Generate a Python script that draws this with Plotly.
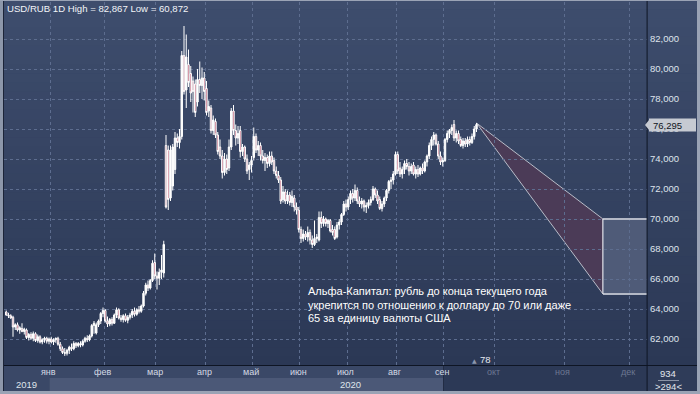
import plotly.graph_objects as go

# ---------------- data ----------------
open_ = [
    63.80, 63.60, 63.55, 63.45, 62.80, 62.95, 62.60, 62.70, 62.50, 62.60,
    62.10, 62.30, 62.05, 62.35, 61.90, 62.15, 61.80, 61.95, 62.05, 61.85,
    62.00, 61.80, 61.95, 62.05, 61.65, 61.35, 61.10, 61.05, 61.25, 61.45,
    61.35, 61.70, 61.55, 61.70, 61.60, 61.85, 62.05, 61.95, 62.20, 62.90,
    62.40, 62.95, 63.20, 63.70, 63.90, 63.20, 63.00, 63.30, 63.05, 63.60,
    63.95, 63.40, 63.30, 63.55, 63.25, 63.45, 63.60, 63.85, 63.65, 63.95,
    63.85, 64.20, 65.05, 65.60, 65.40, 65.90, 67.10, 66.20, 66.05, 66.45,
    66.40, 74.90, 74.60, 71.40, 72.20, 73.30, 75.40, 75.10, 75.50, 80.90,
    78.60, 80.30, 79.70, 79.20, 79.00, 77.80, 79.30, 78.90, 79.40, 78.70,
    77.20, 77.40, 75.90, 76.50, 75.60, 74.80, 74.20, 73.10, 74.00, 73.40,
    74.80, 77.20, 75.90, 75.40, 75.90, 74.50, 74.80, 74.00, 73.30, 73.60,
    74.10, 75.50, 74.60, 74.90, 74.20, 73.90, 74.10, 73.70, 74.20, 73.90,
    73.20, 72.90, 72.60, 71.30, 71.80, 71.20, 71.60, 71.10, 71.40, 70.80,
    70.60, 69.30, 68.70, 69.00, 68.80, 69.10, 68.60, 68.30, 68.70, 68.60,
    70.10, 69.70, 70.00, 69.70, 69.90, 69.30, 69.30, 68.80, 69.60, 69.80,
    70.30, 71.00, 70.80, 71.30, 71.70, 71.40, 71.90, 71.20, 71.00, 71.20,
    70.80, 70.90, 71.10, 71.30, 72.00, 71.60, 71.30, 70.70, 71.00, 71.40,
    71.90, 72.50, 72.60, 73.00, 74.30, 73.40, 73.00, 73.30, 73.70, 73.50,
    73.20, 73.60, 73.00, 73.30, 73.00, 73.40, 73.20, 73.80, 74.20, 74.90,
    75.30, 75.60, 75.00, 74.20, 73.80, 73.90, 75.30, 75.70, 75.90, 76.30,
    75.40, 75.70, 75.30, 74.90, 75.20, 75.00, 75.30, 75.10, 75.50, 76.00,
]
high_ = [
    63.90, 63.75, 63.65, 63.55, 63.05, 63.10, 62.85, 63.05, 62.75, 62.70,
    62.40, 62.45, 62.50, 62.45, 62.30, 62.25, 62.05, 62.15, 62.15, 62.10,
    62.15, 62.05, 62.10, 62.15, 61.80, 61.50, 61.40, 61.35, 61.55, 61.70,
    61.85, 61.80, 61.80, 61.85, 61.95, 62.15, 62.25, 62.30, 63.00, 63.20,
    63.10, 63.30, 63.80, 64.10, 64.00, 63.50, 63.40, 63.45, 63.70, 64.10,
    64.05, 63.60, 63.65, 63.70, 63.60, 63.75, 64.00, 64.10, 64.05, 64.20,
    64.30, 65.20, 65.75, 65.90, 66.00, 67.25, 67.70, 66.50, 66.70, 67.60,
    68.55, 75.60, 74.90, 74.90, 75.00, 75.80, 75.70, 76.00, 81.20, 82.867,
    82.30, 81.30, 80.20, 79.50, 79.30, 80.00, 80.50, 80.10, 79.80, 79.20,
    77.90, 77.60, 76.90, 76.70, 75.80, 75.30, 74.60, 74.40, 74.30, 75.30,
    77.40, 77.60, 76.30, 76.20, 76.20, 75.00, 74.90, 74.30, 73.80, 74.20,
    76.10, 75.70, 75.20, 75.10, 74.60, 74.40, 74.30, 74.50, 74.50, 74.10,
    73.50, 73.20, 72.80, 72.20, 72.00, 71.90, 71.80, 71.90, 71.60, 71.10,
    70.80, 69.50, 69.30, 69.20, 69.50, 69.30, 68.90, 69.90, 69.00, 70.50,
    70.50, 70.20, 70.10, 70.00, 70.00, 69.60, 69.50, 69.80, 70.00, 70.40,
    71.20, 71.30, 71.50, 71.90, 72.00, 72.30, 72.10, 71.50, 71.40, 71.30,
    71.10, 71.30, 71.50, 72.20, 72.10, 71.90, 71.50, 71.20, 71.50, 72.00,
    72.60, 72.80, 73.20, 74.50, 74.50, 73.80, 73.50, 73.90, 74.00, 73.80,
    73.70, 73.80, 73.50, 73.60, 73.50, 73.70, 73.90, 74.30, 75.10, 75.50,
    75.80, 75.70, 75.20, 74.50, 74.10, 75.40, 75.90, 76.00, 76.30, 76.60,
    75.90, 75.90, 75.50, 75.40, 75.40, 75.50, 75.50, 75.70, 76.20, 76.40,
]
low_ = [
    63.55, 63.40, 63.35, 62.15, 62.60, 62.50, 62.35, 62.45, 62.30, 62.00,
    61.90, 61.95, 61.85, 61.80, 61.75, 61.70, 61.65, 61.75, 61.70, 61.65,
    61.70, 61.60, 61.75, 61.55, 61.20, 61.00, 60.872, 60.90, 61.00, 61.20,
    61.25, 61.40, 61.45, 61.45, 61.50, 61.75, 61.80, 61.85, 62.10, 62.35,
    62.30, 62.80, 63.00, 63.45, 63.10, 62.80, 62.85, 62.90, 63.00, 63.40,
    63.30, 63.15, 63.10, 63.15, 63.05, 63.30, 63.40, 63.50, 63.55, 63.70,
    63.75, 64.10, 64.90, 65.20, 65.30, 65.80, 66.00, 65.30, 65.60, 66.00,
    66.10, 70.70, 70.60, 71.20, 71.90, 73.00, 74.80, 74.70, 75.30, 78.30,
    77.40, 78.80, 77.80, 77.10, 76.80, 77.50, 78.40, 78.00, 77.90, 76.90,
    76.80, 75.70, 75.60, 75.40, 74.30, 74.00, 72.70, 72.90, 73.00, 73.20,
    74.60, 75.60, 74.90, 75.00, 74.10, 74.20, 73.80, 73.00, 72.60, 73.10,
    73.90, 74.40, 74.20, 73.90, 73.70, 73.20, 73.40, 73.50, 73.60, 73.00,
    72.70, 72.40, 71.00, 71.10, 71.00, 71.00, 70.90, 70.80, 70.50, 70.30,
    69.10, 68.40, 68.50, 68.60, 68.50, 68.30, 68.07, 68.20, 68.40, 68.50,
    69.40, 69.50, 69.50, 69.40, 69.10, 68.90, 68.60, 68.70, 69.30, 69.60,
    70.20, 70.50, 70.60, 71.00, 71.10, 71.20, 71.00, 70.80, 70.70, 70.50,
    70.40, 70.70, 70.90, 71.20, 71.40, 71.00, 70.60, 70.50, 70.80, 71.20,
    71.70, 72.00, 72.30, 72.90, 73.00, 72.80, 72.70, 73.00, 73.30, 72.90,
    73.00, 72.90, 72.70, 72.80, 72.90, 73.00, 73.10, 73.50, 74.00, 74.60,
    74.90, 74.90, 74.00, 73.60, 73.50, 73.80, 75.10, 75.40, 75.60, 75.20,
    75.10, 75.00, 74.80, 74.70, 74.80, 74.80, 74.90, 75.00, 75.30, 75.80,
]
close_ = [
    63.60, 63.55, 63.40, 62.80, 62.95, 62.60, 62.75, 62.50, 62.65, 62.10,
    62.30, 62.05, 62.35, 61.90, 62.15, 61.80, 61.95, 62.05, 61.85, 62.00,
    61.80, 61.95, 62.05, 61.65, 61.35, 61.10, 61.05, 61.25, 61.45, 61.35,
    61.70, 61.55, 61.70, 61.60, 61.85, 62.05, 61.95, 62.20, 62.90, 63.05,
    62.95, 63.20, 63.70, 63.90, 63.20, 63.00, 63.30, 63.05, 63.60, 63.95,
    63.40, 63.30, 63.55, 63.25, 63.45, 63.60, 63.85, 63.65, 63.95, 63.85,
    64.20, 65.05, 65.60, 65.40, 65.90, 67.05, 66.20, 66.05, 66.45, 66.60,
    68.30, 70.80, 71.30, 74.60, 74.80, 75.40, 75.10, 75.50, 80.90, 78.50,
    80.80, 79.10, 78.40, 78.50, 77.10, 79.30, 78.90, 79.40, 78.50, 77.10,
    77.50, 75.90, 76.60, 75.60, 74.50, 74.20, 73.10, 74.00, 73.30, 74.80,
    77.20, 75.90, 75.40, 75.70, 74.50, 74.80, 74.00, 73.20, 73.60, 73.90,
    75.50, 74.60, 74.90, 74.20, 73.90, 74.10, 73.70, 74.20, 73.80, 73.20,
    72.90, 72.60, 71.20, 71.80, 71.20, 71.60, 71.10, 71.50, 70.80, 70.60,
    69.30, 68.70, 69.00, 68.80, 69.10, 68.60, 68.30, 68.70, 68.80, 70.10,
    69.70, 70.00, 69.70, 69.90, 69.20, 69.10, 68.70, 69.60, 69.80, 70.30,
    71.00, 70.80, 71.30, 71.70, 71.40, 71.90, 71.20, 71.00, 71.20, 70.80,
    70.90, 71.10, 71.30, 72.00, 71.60, 71.20, 70.70, 71.00, 71.40, 71.90,
    72.50, 72.60, 73.00, 74.30, 73.20, 73.00, 73.30, 73.70, 73.50, 73.20,
    73.50, 73.00, 73.30, 73.00, 73.40, 73.20, 73.80, 74.20, 74.90, 75.30,
    75.60, 75.00, 74.20, 73.80, 73.90, 75.30, 75.70, 75.90, 76.10, 75.40,
    75.70, 75.20, 74.90, 75.20, 75.00, 75.30, 75.10, 75.50, 76.00, 76.295,
]
day_idx = list(range(len(close_)))          # trading-day index

month_labels = ["янв", "фев", "мар", "апр", "май", "июн", "июл", "авг", "сен", "окт", "ноя", "дек"]
month_tick_idx = [19.5, 43.5, 66.5, 88.5, 109.5, 130.5, 151.5, 173.5, 194.5, 217.2, 247.9, 276.8]
future_months = ["окт", "ноя", "дек"]
year_labels = ["2019", "2020"]
year_label_idx = [9.2, 152.8]

price_ticks = [62, 64, 66, 68, 70, 72, 74, 76, 78, 80, 82]
forecast_levels = [70.0, 65.0]
forecast_box_start = 265.2
title_text = "USD/RUB 1D High = 82,867 Low = 60,872"
note_lines = ["Альфа-Капитал: рубль до конца текущего года",
              "укрепится по отношению к доллару до 70 или даже",
              "65 за единицу валюты США"]
bar_count_text = "78"
corner_top, corner_bottom = "934", ">294<"

# ---------------- layout geometry ----------------
W, H = 700, 394
L, R, T, B = 4, 53, 2, 29
PW, PH = W - L - R, H - T - B
X_RANGE = [-1, 284.78]
Y_RANGE = [60.2667, 84.4667]


def px(x):
    return (x - L) / PW


def py(y):
    return 1 - (y - T) / PH


FONT = "Liberation Sans"
fig = go.Figure()

fig.add_trace(go.Candlestick(
    x=day_idx, open=open_, high=high_, low=low_, close=close_,
    increasing=dict(line=dict(color="#ffffff", width=1), fillcolor="#ffffff"),
    decreasing=dict(line=dict(color="#ffffff", width=1), fillcolor="#b03a58"),
    whiskerwidth=0, showlegend=False, hoverinfo="skip",
))

shapes = []
# background gradient
N = 40
top_c, bot_c = (62, 77, 109), (43, 56, 85)
for k in range(N):
    f = (k + 0.5) / N
    c = tuple(round(top_c[j] + (bot_c[j] - top_c[j]) * f) for j in range(3))
    y0 = 0 + k * 366 / N
    y1 = 0 + (k + 1) * 366 / N + 0.6
    shapes.append(dict(type="rect", xref="paper", yref="paper", layer="below",
                       x0=px(0), x1=px(700), y0=py(y1), y1=py(y0),
                       line=dict(width=0), fillcolor="rgb(%d,%d,%d)" % c))

# forecast triangle & target box
apex_x, apex_y = day_idx[-1], high_[-1]
shapes.append(dict(type="path", xref="x", yref="y", layer="below",
                   path=f"M {apex_x},{apex_y} L {forecast_box_start},{forecast_levels[0]} "
                        f"L {forecast_box_start},{forecast_levels[1]} Z",
                   fillcolor="#4b3b57", line=dict(color="#b8bcc8", width=1)))
shapes.append(dict(type="rect", xref="x", yref="y", layer="below",
                   x0=forecast_box_start, x1=X_RANGE[1], y0=forecast_levels[1], y1=forecast_levels[0],
                   fillcolor="#4f5b78", line=dict(width=0)))
for lv in forecast_levels:
    shapes.append(dict(type="line", xref="x", yref="y", layer="above",
                       x0=forecast_box_start, x1=X_RANGE[1], y0=lv, y1=lv,
                       line=dict(color="#b4b9c6", width=2)))
shapes.append(dict(type="line", xref="x", yref="y", layer="above",
                   x0=forecast_box_start, x1=forecast_box_start,
                   y0=forecast_levels[1], y1=forecast_levels[0],
                   line=dict(color="#e6e6ee", width=1)))


# bottom axis rows
def prect(x0, x1, y0, y1, color, layer="above"):
    shapes.append(dict(type="rect", xref="paper", yref="paper", layer=layer,
                       x0=px(x0), x1=px(x1), y0=py(y1), y1=py(y0),
                       line=dict(width=0), fillcolor=color))


prect(0, 443.5, 366, 378, "#3a4867")
prect(0, 49.5, 378, 391, "#3a4867")
prect(49.5, 443.5, 378, 391, "#4b5877")
prect(443.5, 647, 366, 391, "#2c3956")
prect(647, 697, 366, 391, "#2f3c59")
prect(443, 444, 366, 391, "#222c44")
prect(0, 697, 365, 366, "#0e1524")
prect(646.6, 647.6, 0, 391, "#0e1524")
# outer frame
prect(0, 3, 0, 394, "#8d97aa")
prect(3, 4, 0, 391, "#1c2438")
prect(0, 700, 391, 394, "#9aa3b5")
prect(697, 700, 0, 394, "#9aa3b5")
prect(0, 700, 0, 1, "#9aa3b5")
# corner separator line
prect(658, 679, 380, 381, "#8a93a6")
# current price label
prect(649, 696, 118.5, 131.5, "#c6cad2")
shapes.append(dict(type="path", xref="paper", yref="paper", layer="above",
                   path=f"M {px(645)},{py(125)} L {px(649.5)},{py(119.5)} L {px(649.5)},{py(130.5)} Z",
                   fillcolor="#c6cad2", line=dict(width=0)))

ann = []
ann.append(dict(text=title_text, xref="paper", yref="paper", x=px(5), y=py(9),
                xanchor="left", yanchor="middle", showarrow=False,
                font=dict(family=FONT, size=9.6, color="#f2f4f8")))
for k, line in enumerate(note_lines):
    ann.append(dict(text=line, xref="paper", yref="paper", x=px(306), y=py(291 + k * 13.5),
                    xanchor="left", yanchor="middle", align="left", showarrow=False,
                    font=dict(family=FONT, size=11, color="#ffffff")))
for lab, xv in zip(month_labels, month_tick_idx):
    col = "#6c7892" if lab in future_months else "#d3d9e4"
    ann.append(dict(text=lab, xref="x", yref="paper", x=xv - 0.6, y=py(372),
                    xanchor="center", yanchor="middle", showarrow=False,
                    font=dict(family=FONT, size=9, color=col)))
for lab, xv in zip(year_labels, year_label_idx):
    ann.append(dict(text=lab, xref="x", yref="paper", x=xv, y=py(384.5),
                    xanchor="center", yanchor="middle", showarrow=False,
                    font=dict(family=FONT, size=9.5, color="#dfe4ec")))
ann.append(dict(text=bar_count_text, xref="paper", yref="paper", x=px(485), y=py(359.5),
                xanchor="center", yanchor="middle", showarrow=False,
                font=dict(family=FONT, size=9.5, color="#e6eaf0")))
ann.append(dict(text="▲", xref="x", yref="paper", x=day_idx[-1] - 1, y=py(360),
                xanchor="center", yanchor="middle", showarrow=False,
                font=dict(family="DejaVu Sans", size=6, color="#8c97ad")))
ann.append(dict(text=corner_top, xref="paper", yref="paper", x=px(668), y=py(374),
                xanchor="center", yanchor="middle", showarrow=False,
                font=dict(family=FONT, size=9.5, color="#e3e7ee")))
ann.append(dict(text=corner_bottom, xref="paper", yref="paper", x=px(668), y=py(386),
                xanchor="center", yanchor="middle", showarrow=False,
                font=dict(family=FONT, size=9.5, color="#e3e7ee")))
ann.append(dict(text=f"{close_[-1]:.3f}".replace(".", ","), xref="paper", yref="paper",
                x=px(651), y=py(125), xanchor="left", yanchor="middle", showarrow=False,
                font=dict(family=FONT, size=9.5, color="#10141c")))

fig.update_layout(
    width=W, height=H,
    margin=dict(l=L, r=R, t=T, b=B, pad=0),
    paper_bgcolor="#2f3c59", plot_bgcolor="rgba(0,0,0,0)",
    separators=", ",
    showlegend=False, hovermode=False, boxgap=0.1,
    shapes=shapes, annotations=ann,
    xaxis=dict(range=X_RANGE, rangeslider=dict(visible=False), showticklabels=False,
               tickvals=month_tick_idx, ticks="", showgrid=True,
               gridcolor="#5d6d8f", griddash="3px,3px", gridwidth=1,
               zeroline=False, showline=False, fixedrange=True),
    yaxis=dict(range=Y_RANGE, side="right", tickvals=price_ticks, tickformat=".3f",
               ticks="", ticklabelstandoff=2,
               tickfont=dict(family=FONT, size=9.5, color="#dfe4ec"),
               showgrid=True, gridcolor="#5d6d8f", griddash="3px,3px", gridwidth=1,
               zeroline=False, showline=False, fixedrange=True),
)

fig.write_html(
    "out.html",
    config={"displayModeBar": False, "staticPlot": True},
    post_script="document.body.style.margin='0';document.body.style.padding='0';"
                "document.body.style.overflow='hidden';",
)
